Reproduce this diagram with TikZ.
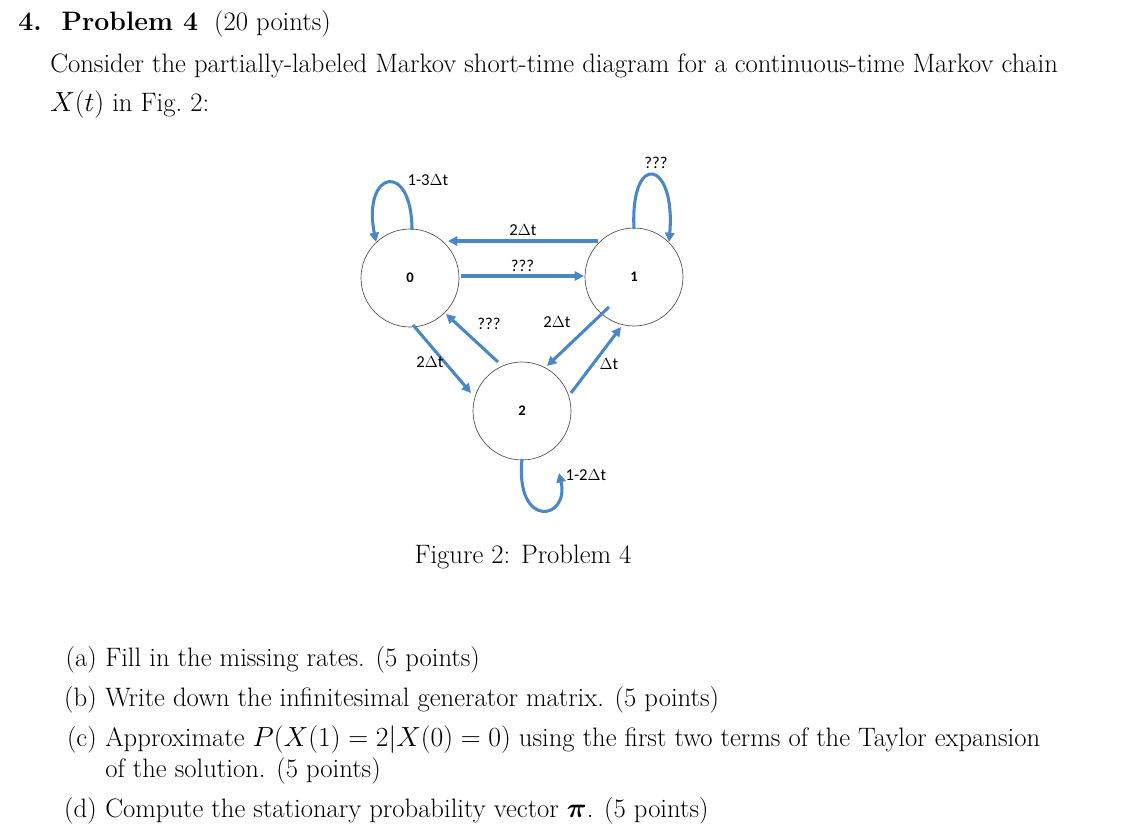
\documentclass[tikz,border=0pt]{standalone}
\usepackage{amsmath}
\usepackage{fontspec}
\newfontfamily\carlitof{Carlito}
\usetikzlibrary{arrows.meta}
\definecolor{ab}{RGB}{74,134,200}
\begin{document}
\begin{tikzpicture}[x=0.75pt,y=-0.75pt,
  st/.style={circle,draw=black!70,line width=0.5pt,minimum size=73.5pt,inner sep=0pt,font=\carlitof\bfseries\fontsize{11}{13}\selectfont},
  ar/.style={draw=ab,line width=2.3pt,-{Triangle[length=7pt,width=7pt]}},
  lb/.style={font=\carlitof\fontsize{12.5}{14}\selectfont,inner sep=1pt},
  tx/.style={anchor=base west,inner sep=0pt,font=\fontsize{20}{23}\selectfont}]
\useasboundingbox (0,0) rectangle (1125,836);
\node[tx] (h) at (18,30) {\textbf{4.\ \ Problem 4}\ \ (20 points)};
\node[tx] (p1) at (50,72) {Consider the partially-labeled Markov short-time diagram for a continuous-time Markov chain};
\node[tx] (p2) at (50,111) {$X(t)$ in Fig.\ 2:};
\node[st] (s0) at (410,278) {0};
\node[st] (s1) at (634,277) {1};
\node[st] (s2) at (522,411) {2};
\coordinate (a1) at (598,241); \coordinate (b1) at (448,241);
\draw[ar] (a1) -- (b1) node[lb,midway,above=2pt]{2$\Delta$t};
\coordinate (a2) at (461,276); \coordinate (b2) at (584,276);
\draw[ar] (a2) -- (b2) node[lb,midway,above=1pt]{???};
\coordinate (a3) at (413,325); \coordinate (b3) at (471,393);
\draw[ar] (a3) -- (b3);
\node[lb] (l3) at (430,362) {2$\Delta$t};
\coordinate (a4) at (498,362); \coordinate (b4) at (446,314);
\draw[ar] (a4) -- (b4);
\node[lb] (l4) at (489,324) {???};
\coordinate (a5) at (609,307); \coordinate (b5) at (547,366);
\draw[ar] (a5) -- (b5);
\node[lb] (l5) at (557,322) {2$\Delta$t};
\coordinate (a6) at (571,393); \coordinate (b6) at (621,327);
\draw[ar] (a6) -- (b6);
\node[lb] (l6) at (609,364) {$\Delta$t};
\draw[ar] (412,230) .. controls (412,160) and (362,170) .. (376,242);
\node[lb] (l7) at (428,180) {1-3$\Delta$t};
\draw[ar] (634,229) .. controls (630,150) and (676,160) .. (669,242);
\node[lb] (l8) at (656,163) {???};
\draw[ar] (522,459) .. controls (515,530) and (570,520) .. (559,473);
\node[lb] (l9) at (586,475) {1-2$\Delta$t};
\node[tx,anchor=base] (cap) at (523,563) {Figure 2: Problem 4};
\node[tx,anchor=base east] (la) at (97,666) {(a)};
\node[tx] (ta) at (105,666) {Fill in the missing rates. (5 points)};
\node[tx,anchor=base east] (lbb) at (97,706) {(b)};
\node[tx] (tb) at (105,706) {Write down the infinitesimal generator matrix. (5 points)};
\node[tx,anchor=base east] (lc) at (97,746) {(c)};
\node[tx] (tc) at (105,746) {Approximate $P(X(1)=2|X(0)=0)$ using the first two terms of the Taylor expansion};
\node[tx] (tc2) at (105,777) {of the solution. (5 points)};
\node[tx,anchor=base east] (ld) at (97,817) {(d)};
\node[tx] (td) at (105,817) {Compute the stationary probability vector $\boldsymbol{\pi}$. (5 points)};
\end{tikzpicture}
\end{document}
